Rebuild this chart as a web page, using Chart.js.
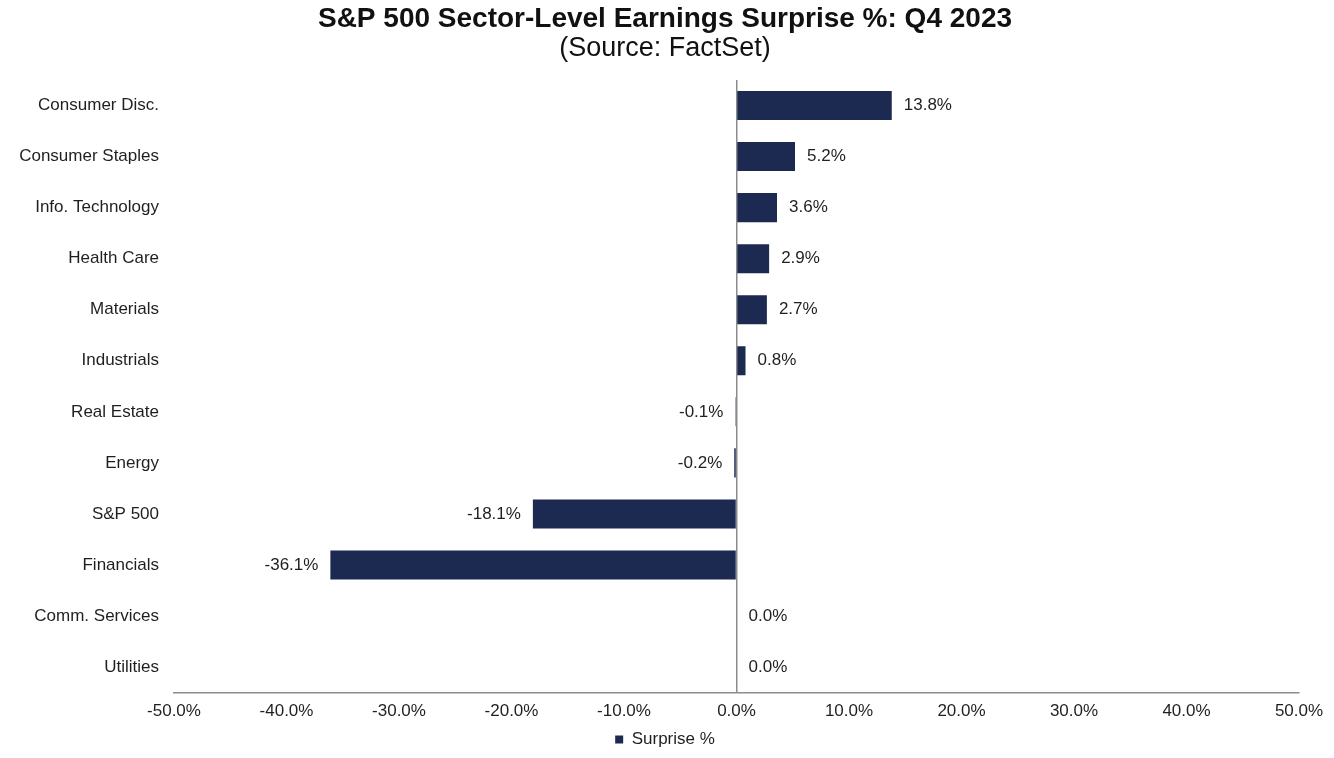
<!DOCTYPE html>
<html>
<head>
<meta charset="utf-8">
<title>S&P 500 Sector-Level Earnings Surprise %: Q4 2023</title>
<script src="https://cdn.jsdelivr.net/npm/chart.js@4.4.1/dist/chart.umd.min.js"></script>
<style>
    html, body { margin: 0; padding: 0; background: #ffffff; }
    #wrap { width: 1334px; height: 758px; }
</style>
</head>
<body>
<div id="wrap"><canvas id="surpriseChart" width="1334" height="758"></canvas></div>
<script>
// Chart data
const sectors = ['Consumer Disc.', 'Consumer Staples', 'Info. Technology', 'Health Care', 'Materials',
    'Industrials', 'Real Estate', 'Energy', 'S&P 500', 'Financials', 'Comm. Services', 'Utilities'];
const surprise = [13.8, 5.2, 3.6, 2.9, 2.7, 0.8, -0.1, -0.2, -18.1, -36.1, 0.0, 0.0];
const xTicks = [-50, -40, -30, -20, -10, 0, 10, 20, 30, 40, 50];

const barColor = '#1c2951';
const textColor = '#1f1f1f';
const axisColor = '#8c8c8c';
const fontFamily = '"Liberation Sans", Arial, sans-serif';

// Value labels at the end of each bar
const valueLabels = {
    id: 'valueLabels',
    afterDatasetsDraw(chart) {
        const ctx = chart.ctx;
        const meta = chart.getDatasetMeta(0);
        ctx.save();
        ctx.font = '17px ' + fontFamily;
        ctx.fillStyle = textColor;
        ctx.textBaseline = 'middle';
        meta.data.forEach((bar, i) => {
            const v = surprise[i];
            const text = v.toFixed(1) + '%';
            if (v < 0) {
                ctx.textAlign = 'right';
                ctx.fillText(text, Math.min(bar.x, bar.base) - 12, bar.y);
            } else {
                ctx.textAlign = 'left';
                ctx.fillText(text, Math.max(bar.x, bar.base) + 12, bar.y);
            }
        });
        ctx.restore();
    }
};

// Title, subtitle and legend are centred on the whole page, not on the padded box
const centerBoxes = {
    id: 'centerBoxes',
    afterLayout(chart) {
        chart.boxes.forEach(box => {
            if (!box.axis && (box.position === 'top' || box.position === 'bottom')) {
                box.left = 0;
                box.right = 1330;
                box.width = 1330;
            }
        });
    }
};

const ctx = document.getElementById('surpriseChart').getContext('2d');
new Chart(ctx, {
    type: 'bar',
    data: {
        labels: sectors,
        datasets: [{
            label: 'Surprise %',
            data: surprise,
            backgroundColor: barColor,
            borderColor: barColor,
            borderWidth: 0,
            barPercentage: 0.57,
            categoryPercentage: 1.0
        }]
    },
    options: {
        indexAxis: 'y',
        responsive: false,
        animation: false,
        devicePixelRatio: 1,
        layout: {
            padding: { top: 0, right: 35, bottom: 0, left: 14 }
        },
        scales: {
            x: {
                min: -50,
                max: 50,
                afterBuildTicks: scale => {
                    scale.ticks = xTicks.map(v => ({ value: v }));
                },
                afterFit: scale => { scale.height -= 3; },
                grid: {
                    drawTicks: false,
                    lineWidth: 1.5,
                    color: c => (c.tick && c.tick.value === 0) ? axisColor : 'rgba(0,0,0,0)'
                },
                border: { display: true, color: axisColor, width: 1.5 },
                ticks: {
                    padding: 9,
                    color: textColor,
                    font: { family: fontFamily, size: 17 },
                    callback: v => v.toFixed(1) + '%'
                }
            },
            y: {
                afterFit: scale => { scale.width = 160; },
                grid: { display: false, drawTicks: false },
                border: { display: false },
                ticks: {
                    padding: 15,
                    color: textColor,
                    font: { family: fontFamily, size: 17 }
                }
            }
        },
        plugins: {
            title: {
                display: true,
                text: 'S&P 500 Sector-Level Earnings Surprise %: Q4 2023',
                color: '#111111',
                font: { family: fontFamily, size: 28, weight: 'bold', lineHeight: 1.0 },
                padding: { top: 5, bottom: 0 }
            },
            subtitle: {
                display: true,
                text: '(Source: FactSet)',
                color: '#111111',
                font: { family: fontFamily, size: 27, lineHeight: 1.0 },
                padding: { top: 2, bottom: 18 }
            },
            legend: {
                display: true,
                position: 'bottom',
                labels: {
                    boxWidth: 8,
                    boxHeight: 8,
                    padding: 3,
                    color: textColor,
                    font: { family: fontFamily, size: 17 }
                }
            },
            tooltip: { enabled: false }
        }
    },
    plugins: [valueLabels, centerBoxes]
});
</script>
</body>
</html>
